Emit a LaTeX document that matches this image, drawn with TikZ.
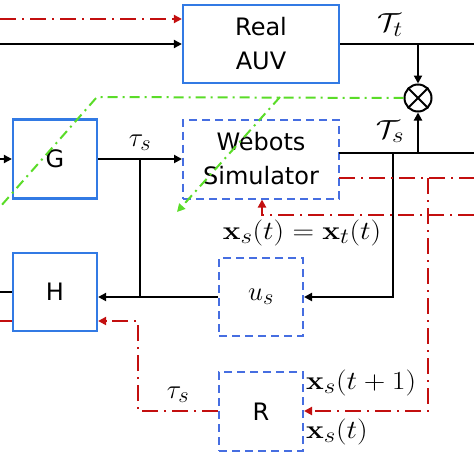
\documentclass[tikz,border=0pt]{standalone}
\usepackage[no-math]{fontspec}
\newfontfamily\boxfont{DejaVu Sans}
\usetikzlibrary{arrows.meta}
\definecolor{boxblue}{RGB}{50,122,228}
\definecolor{dashblue}{RGB}{70,110,225}
\definecolor{sigred}{RGB}{195,15,15}
\definecolor{siggreen}{RGB}{90,220,40}
\newcommand{\widelab}[1]{\scalebox{1.2}[1.05]{$#1$}}
\tikzset{
  realbox/.style={draw=boxblue,line width=2.2pt,fill=white,rectangle,inner sep=0pt,
    font=\boxfont\fontsize{24}{34}\selectfont,align=center},
  simbox/.style={draw=dashblue,line width=2pt,dash pattern=on 8pt off 5pt,rectangle,inner sep=0pt,
    font=\boxfont\fontsize{24}{34}\selectfont,align=center},
  sig/.style={line width=2pt,black},
  redsig/.style={line width=2pt,sigred,dash pattern=on 16pt off 6pt on 2pt off 6pt},
  greensig/.style={line width=2pt,siggreen,dash pattern=on 10pt off 5pt on 2pt off 5pt},
  arr/.style={-{Triangle[length=8pt,width=8pt]}},
  lbl/.style={inner sep=0pt,font=\fontsize{24.88}{30}\selectfont},
}
\begin{document}
\begin{tikzpicture}[x=1pt,y=-1pt]
\useasboundingbox (0,0) rectangle (474,474);
% blocks
\node[realbox,minimum width=156pt,minimum height=78pt] (auv) at (261,44) {Real\\AUV};
\node[simbox,minimum width=156pt,minimum height=79pt] (web) at (261,159) {Webots\\Simulator};
\node[realbox,minimum width=84pt,minimum height=79pt] (G) at (55,159) {G};
\node[realbox,minimum width=84pt,minimum height=78pt] (H) at (55,292) {H};
\node[simbox,minimum width=84pt,minimum height=78pt,font=\fontsize{24.88}{30}\selectfont] (us) at (261,297) {\scalebox{1.08}{$u_s$}};
\node[simbox,minimum width=84pt,minimum height=79pt] (R) at (261,411.5) {R};
\node[circle,draw,line width=2pt,minimum size=27pt,inner sep=0pt] (mix) at (418,98) {};
\draw[line width=2pt] (mix.north east) -- (mix.south west) (mix.north west) -- (mix.south east);
% coordinates
\coordinate (inred) at (0,19);
\coordinate (inblk) at (0,44);
\coordinate (outT) at (474,44);
\coordinate (tapT) at (418,44);
\coordinate (wout) at (339,153);
\coordinate (outS) at (474,153);
\coordinate (tapS) at (418,153);
\coordinate (gin) at (0,159);
\coordinate (tj) at (140,159);
\coordinate (tjd) at (140,297);
\coordinate (xj) at (393,153);
\coordinate (xjd) at (393,297);
\coordinate (hin) at (0,292);
\coordinate (hred) at (0,321);
\coordinate (rl) at (138,411);
\coordinate (rlu) at (138,321);
\coordinate (wred) at (339,178);
\coordinate (wredo) at (474,178);
\coordinate (rv) at (428,178);
\coordinate (rvd) at (428,411);
\coordinate (fbo) at (474,215);
\coordinate (fb) at (262,215);
\coordinate (gc) at (97,97);
\coordinate (gend) at (0,207);
\coordinate (gb) at (280,97);
\coordinate (gbe) at (177,212);
% black signals
\draw[sig,arr] (inblk) -- (auv.west |- inblk);
\draw[sig] (auv.east |- inblk) -- (outT);
\draw[sig,arr] (tapT) -- (mix.north);
\draw[sig] (wout) -- (outS);
\draw[sig,arr] (tapS) -- (mix.south);
\draw[sig,arr] (gin) -- (G.west);
\draw[sig,arr] (G.east) -- (web.west);
\draw[sig] (tj) -- (tjd);
\draw[sig,arr] (xj) -- (xjd) -- (us.east);
\draw[sig,arr] (us.west) -- (H.east |- us.west);
\draw[sig] (hin) -- (H.west);
% red signals
\draw[redsig,arr] (inred) -- (auv.west |- inred);
\draw[redsig] (hred) -- (H.west |- hred);
\draw[redsig,arr] (R.west |- rl) -- (rl) -- (rlu) -- (H.east |- rlu);
\draw[redsig] (wred) -- (wredo);
\draw[redsig,arr] (rv) -- (rvd) -- (R.east |- rvd);
\draw[redsig,arr] (fbo) -- (fb) -- (fb |- web.south);
% green signals
\draw[greensig] (mix.west) -- (gc) -- (gend);
\draw[greensig,arr] (gb) -- (gbe);
% labels
\node[lbl] (lTt) at (390,25) {\widelab{\mathcal{T}_t}};
\node[lbl] (lTs) at (390,132) {\widelab{\mathcal{T}_s}};
\node[lbl] (ltau1) at (140,143) {\scalebox{1.08}{$\tau_s$}};
\node[lbl] (ltau2) at (178,395) {\scalebox{1.08}{$\tau_s$}};
\node[lbl] (lx) at (302,233) {\widelab{\mathbf{x}_s(t)=\mathbf{x}_t(t)}};
\node[lbl,anchor=west] (lx1) at (306,383) {\widelab{\mathbf{x}_s(t+1)}};
\node[lbl,anchor=west] (lx0) at (306,432) {\widelab{\mathbf{x}_s(t)}};
\end{tikzpicture}
\end{document}
